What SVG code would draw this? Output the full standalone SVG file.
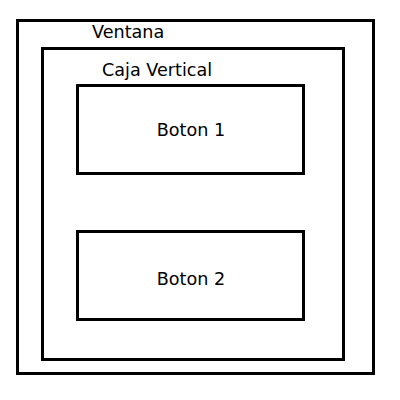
<svg xmlns="http://www.w3.org/2000/svg" width="400" height="400" viewBox="0 0 400 400">
<style>
rect{fill:none;stroke:#000;stroke-width:3}
text{font-family:"DejaVu Sans",sans-serif;font-size:17.6px;fill:#000}
</style>
<rect x="0" y="0" width="400" height="400" style="fill:#fff;stroke:none"/>
<g id="ventana">
<rect x="17.5" y="20.5" width="356" height="353"/>
<text x="92" y="38">Ventana</text>
</g>
<g id="caja-vertical">
<rect x="42.5" y="48.5" width="301" height="311"/>
<text x="102" y="76">Caja Vertical</text>
</g>
<g id="boton1">
<rect x="77.5" y="85.5" width="226" height="88"/>
<text x="191" y="136" text-anchor="middle">Boton 1</text>
</g>
<g id="boton2">
<rect x="77.5" y="231.5" width="226" height="88"/>
<text x="191" y="285" text-anchor="middle">Boton 2</text>
</g>
<g id="connectors"></g>
</svg>
